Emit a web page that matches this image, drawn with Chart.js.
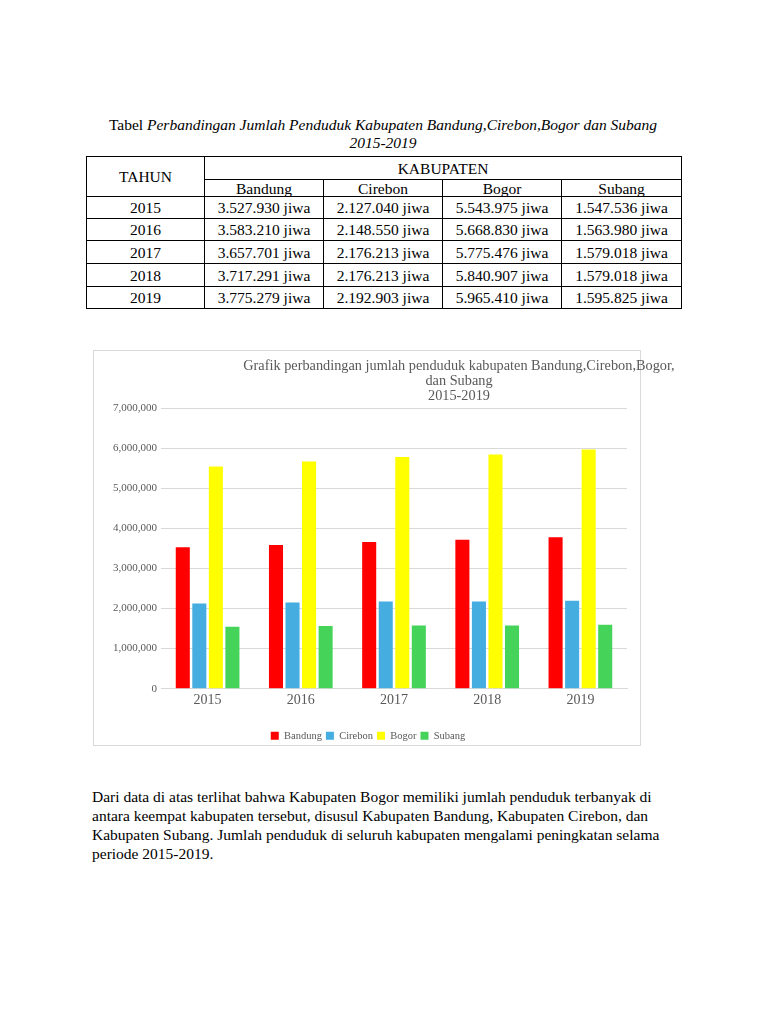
<!DOCTYPE html>
<html>
<head>
<meta charset="utf-8">
<script src="https://cdn.jsdelivr.net/npm/chart.js@4.4.0/dist/chart.umd.min.js"></script>
<style>
  html, body { margin:0; padding:0; background:#fff; width:768px; height:1024px; overflow:hidden; }
  body { font-family: "Liberation Serif", "Times New Roman", serif; color:#000; position:relative; }
  #ttl { position:absolute; left:0; width:766px; top:116px; text-align:center; font-size:15.5px; line-height:18px; }
  table { position:absolute; left:86px; top:156px; width:596px; border-collapse:collapse; font-size:15.5px; table-layout:fixed; }
  td { border:1px solid #000; text-align:center; padding:0; line-height:15px; }
  #box { position:absolute; left:93px; top:350px; width:546px; height:394px; border:1px solid #d9d9d9; }
  #cwrap { position:absolute; left:94px; top:351px; width:546px; height:400px; }
  #ctitle { position:absolute; left:209px; width:500px; top:358px; text-align:center; font-size:14.3px; line-height:15px; color:#595959; white-space:nowrap; }
  #para { position:absolute; left:92px; top:787px; font-size:15.5px; line-height:19px; white-space:nowrap; }
</style>
</head>
<body>
<div id="ttl">Tabel <i>Perbandingan Jumlah Penduduk Kabupaten Bandung,Cirebon,Bogor dan Subang</i><br><i>2015-2019</i></div>
<table id="tbl"></table>
<div id="box"></div>
<div id="cwrap"><canvas id="c"></canvas></div>
<div id="ctitle">Grafik perbandingan jumlah penduduk kabupaten Bandung,Cirebon,Bogor,<br>dan Subang<br>2015-2019</div>
<div id="para">Dari data di atas terlihat bahwa Kabupaten Bogor memiliki jumlah penduduk terbanyak di<br>antara keempat kabupaten tersebut, disusul Kabupaten Bandung, Kabupaten Cirebon, dan<br>Kabupaten Subang. Jumlah penduduk di seluruh kabupaten mengalami peningkatan selama<br>periode 2015-2019.</div>
<script>
const years = ["2015", "2016", "2017", "2018", "2019"];
const bandung = [3527930, 3583210, 3657701, 3717291, 3775279];
const cirebon = [2127040, 2148550, 2176213, 2176213, 2192903];
const bogor = [5543975, 5668830, 5775476, 5840907, 5965410];
const subang = [1547536, 1563980, 1579018, 1579018, 1595825];
const seriesNames = ["Bandung", "Cirebon", "Bogor", "Subang"];
const yTicks = [0, 1000000, 2000000, 3000000, 4000000, 5000000, 6000000, 7000000];

// table
function fmtDot(v) { return v.toLocaleString('en-US').replace(/,/g, '.') + ' jiwa'; }
const tbl = document.getElementById('tbl');
const rowH = [23, 17, 22, 22, 23, 23, 22];
let html = '<colgroup><col style="width:118px"><col style="width:119px"><col style="width:119px"><col style="width:119px"><col style="width:120px"></colgroup>';
html += `<tr style="height:${rowH[0]}px"><td rowspan="2">TAHUN</td><td colspan="4">KABUPATEN</td></tr>`;
html += `<tr style="height:${rowH[1]}px">` + seriesNames.map(n => `<td>${n}</td>`).join('') + '</tr>';
const all = [bandung, cirebon, bogor, subang];
years.forEach((y, i) => {
  html += `<tr style="height:${rowH[i+2]}px"><td>${y}</td>` + all.map(a => `<td>${fmtDot(a[i])}</td>`).join('') + '</tr>';
});
tbl.innerHTML = html;

const colors = ["#FF0000", "#45ADE0", "#FFFF00", "#45D359"];
const grey = "#595959";
new Chart(document.getElementById('c'), {
  type: 'bar',
  data: {
    labels: years,
    datasets: all.map((d, i) => ({
      label: seriesNames[i],
      data: d,
      backgroundColor: colors[i],
      borderWidth: 0,
      categoryPercentage: 0.71,
      barPercentage: 0.85
    }))
  },
  options: {
    responsive: true,
    maintainAspectRatio: false,
    animation: false,
    layout: { padding: { top: 57, right: 13, left: 15, bottom: 0 } },
    plugins: {
      title: { display: false },
      tooltip: { enabled: false },
      legend: {
        position: 'bottom',
        labels: {
          boxWidth: 8, boxHeight: 8, padding: 4,
          color: grey,
          font: { family: "Liberation Serif", size: 10.5 }
        }
      }
    },
    scales: {
      x: {
        grid: { display: false, drawTicks: false },
        border: { color: '#d9d9d9' },
        ticks: { color: grey, font: { family: "Liberation Serif", size: 14 }, padding: 3 },
        afterFit: axis => { axis.height += 15; }
      },
      y: {
        min: 0, max: 7000000,
        afterBuildTicks: axis => { axis.ticks = yTicks.map(v => ({ value: v })); },
        grid: { color: '#d9d9d9', drawTicks: false },
        border: { display: false },
        ticks: {
          color: grey, padding: 4,
          font: { family: "Liberation Serif", size: 11 },
          callback: v => v.toLocaleString('en-US')
        }
      }
    }
  }
});
</script>
</body>
</html>
